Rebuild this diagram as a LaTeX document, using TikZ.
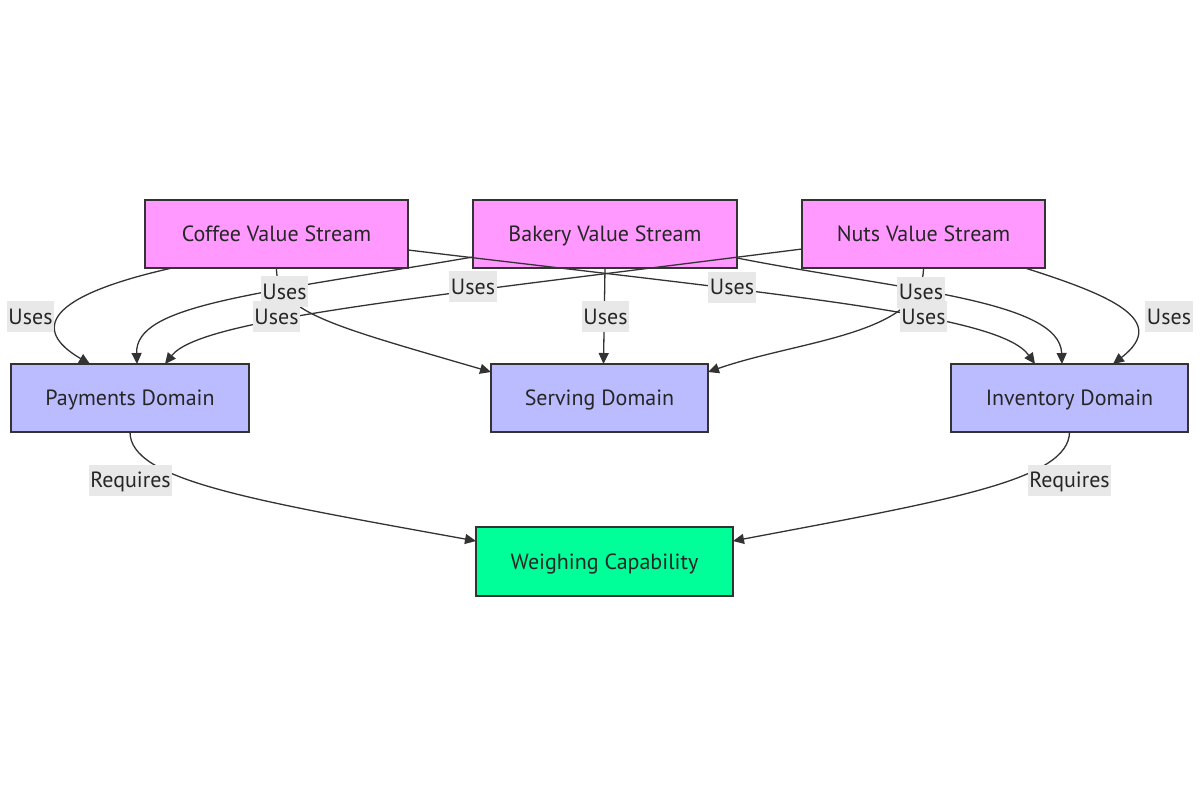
\documentclass[tikz,border=0pt]{standalone}
\usepackage{fontspec}
\setmainfont{PT Sans}
\definecolor{stream}{RGB}{255,153,255}
\definecolor{dom}{RGB}{187,187,255}
\definecolor{capability}{RGB}{0,255,153}
\definecolor{ink}{RGB}{51,51,51}
\definecolor{labelbg}{RGB}{232,232,232}
\usetikzlibrary{
  arrows.meta,     % filled triangle tips
  positioning      % positions like left of node
}
\tikzset{
  node distance=65pt and 65pt,
  every node/.style = {
    rectangle,
    minimum height=68pt,
    text=black!85,
    font=\fontsize{22}{26}\selectfont,
    text height=15pt,
    text depth=0pt,
    outer sep = 0pt,
    inner sep = 0pt
  },
  box/.style = {draw=ink, line width=1.2pt},
  stream/.style = {box, fill = stream},
  dom/.style = {box, fill = dom},
  capability/.style = {box, fill = capability},
  edgelabel/.style = {fill = labelbg, minimum height=31pt, inner xsep=1.5pt},
  ->,        % arrows for all
  >={Triangle[length=11pt,width=10pt]}  % arrow type
}

\begin{document}
\begin{tikzpicture}[x=1pt, y=-1pt, line width=1.3pt, color=ink]

  \useasboundingbox (0,0) rectangle (1200,797);

  %% nodes
  \node[stream, minimum width=264pt] (BVS) at (605,234) {Bakery Value Stream};
  \node[stream, minimum width=263pt] (CVS) [left=of BVS]  {Coffee Value Stream};
  \node[stream, minimum width=243pt] (NVS) [right=of BVS] {Nuts Value Stream};

  \node[dom, minimum width=217pt] (SD) [below=96pt of BVS, xshift=-5.5pt] {Serving Domain};
  \node[dom, minimum width=238pt] (PD) [left=242pt of SD]  {Payments Domain};
  \node[dom, minimum width=237pt] (ID) [right=243pt of SD] {Inventory Domain};

  \node[capability, minimum width=257pt, minimum height=69pt] (WC) [below=95pt of SD, xshift=5pt] {Weighing Capability};

  %% arrows
  \draw ([xshift=27pt]CVS.south west) .. controls (30,300) and (40,335) .. ([xshift=79pt]PD.north west);
  \draw (CVS.south) .. controls (276,312) and (330,325) .. ([yshift=-8pt]SD.north west);
  \draw ([yshift=-16pt]CVS.east) .. controls (800,297) and (1000,315) .. ([xshift=84pt]ID.north west);

  \draw ([yshift=-23pt]BVS.west) .. controls (250,295) and (135,305) .. ([xshift=126pt]PD.north west);
  \draw (BVS.south) -- ([xshift=4pt]SD.north);
  \draw ([yshift=-24pt]BVS.east) .. controls (900,290) and (1060,300) .. ([xshift=111pt]ID.north west);

  \draw ([yshift=-15pt]NVS.west) .. controls (400,300) and (200,320) .. ([xshift=154pt]PD.north west);
  \draw (NVS.south) .. controls (923,335) and (800,340) .. ([yshift=-8pt]SD.north east);
  \draw ([xshift=-20pt]NVS.south east) .. controls (1110,295) and (1170,320) .. ([xshift=162pt]ID.north west);

  \draw (PD.south) .. controls (130,480) and (250,500) .. ([yshift=-14pt]WC.north west);
  \draw (ID.south) .. controls (1069,480) and (950,500) .. ([yshift=-14pt]WC.north east);

  %% edge labels
  \node[edgelabel] (u1) at (30.5,316.5)  {Uses};
  \node[edgelabel] (u2) at (284.5,291.5) {Uses};
  \node[edgelabel] (u3) at (276.5,316.5) {Uses};
  \node[edgelabel] (u4) at (473,286.5)   {Uses};
  \node[edgelabel] (u5) at (605.5,316.5) {Uses};
  \node[edgelabel] (u6) at (732,287)     {Uses};
  \node[edgelabel] (u7) at (921,292)     {Uses};
  \node[edgelabel] (u8) at (923.5,316.5) {Uses};
  \node[edgelabel] (u9) at (1169,316.5)  {Uses};

  \node[edgelabel] (r1) at (130.5,480)  {Requires};
  \node[edgelabel] (r2) at (1069.5,480) {Requires};

\end{tikzpicture}
\end{document}
